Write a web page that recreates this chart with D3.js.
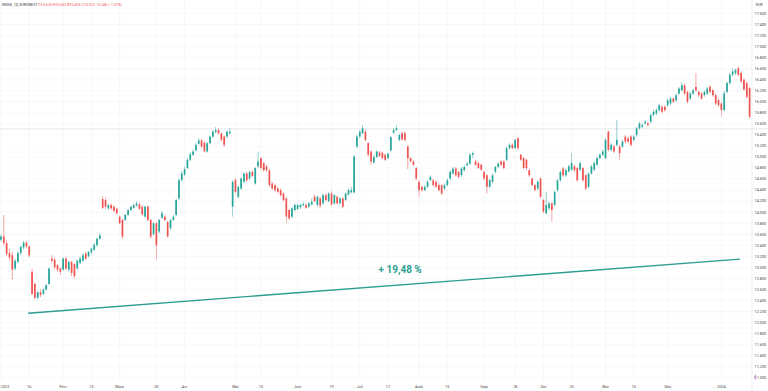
<!DOCTYPE html>
<html><head><meta charset="utf-8">
<script src="https://cdn.jsdelivr.net/npm/d3@7"></script>
<style>html,body{margin:0;padding:0;background:#fff;overflow:hidden}</style>
</head><body>
<svg id="c" width="768" height="391"></svg>
<script>
// ---- DATA (daily candles, ENGIE, Euronext) ----
const open = [13.50,13.56,13.44,13.26,13.22,12.98,13.10,13.26,13.36,13.45,13.38,12.92,12.70,12.45,12.55,12.52,12.60,12.70,13.16,13.14,13.04,12.98,12.96,13.16,12.96,13.10,13.06,12.98,13.08,13.12,13.25,13.20,13.27,13.32,13.40,13.52,
14.24,14.22,14.07,14.13,14.10,14.06,13.92,13.86,13.86,13.95,14.04,14.08,14.12,14.14,14.10,13.92,14.10,13.86,13.60,13.80,13.65,13.90,13.92,13.82,13.71,13.86,13.95,14.25,14.58,
14.68,14.80,14.95,15.04,15.12,15.24,15.30,15.26,15.10,15.25,15.37,15.45,15.49,15.43,15.37,15.37,15.43,
14.10,14.58,14.28,14.43,14.55,14.70,14.61,14.73,14.52,14.83,14.98,14.89,14.83,14.76,14.52,14.49,14.43,14.40,14.34,14.25,14.04,13.92,14.04,14.06,14.09,14.13,14.13,14.10,14.14,14.28,14.13,14.25,14.16,14.31,14.20,14.34,14.16,14.28,14.16,14.25,14.22,14.32,14.36,
14.36,15.19,15.37,15.43,15.46,15.25,15.10,14.90,15.00,15.08,15.08,15.04,14.98,15.12,15.44,15.49,15.31,15.43,15.43,15.19,14.98,14.92,14.80,14.55,14.46,14.40,14.46,14.58,14.58,14.55,14.49,14.49,14.43,14.49,14.61,14.70,14.79,14.73,14.67,14.76,14.85,14.88,15.04,14.92,14.89,14.86,14.73,14.67,14.46,14.55,14.73,14.82,14.92,14.92,14.95,15.16,15.22,15.16,15.34,15.04,14.98,14.95,14.76,14.61,14.49,14.43,14.61,14.22,13.98,14.07,14.16,14.13,
14.40,14.58,14.79,14.67,14.74,14.77,14.83,14.80,14.77,14.80,14.67,14.46,14.70,14.77,14.86,14.98,15.04,14.98,15.46,15.13,15.19,15.22,15.19,15.19,15.37,15.34,15.37,15.31,15.40,15.52,15.55,15.61,15.61,15.64,15.76,15.79,15.85,15.91,15.91,15.94,15.97,16.06,16.03,16.15,16.21,16.30,16.18,16.06,16.15,16.27,16.18,16.15,16.12,16.15,16.27,16.21,16.12,16.03,15.97,
15.85,16.18,16.34,16.49,16.52,16.61,16.52,16.40,16.34,16.25];
const high = [13.60,13.95,13.50,13.34,13.28,13.16,13.30,13.40,13.48,13.48,13.40,12.98,12.72,12.58,12.60,12.62,12.70,13.00,13.22,13.18,13.06,13.00,13.18,13.20,13.12,13.12,13.08,13.14,13.20,13.26,13.28,13.30,13.36,13.44,13.54,13.62,
14.30,14.26,14.16,14.16,14.12,14.08,13.94,13.88,13.97,14.06,14.12,14.16,14.20,14.18,14.12,14.12,14.12,13.88,13.82,13.82,13.88,14.02,13.95,13.84,13.88,13.95,14.24,14.62,14.75,
14.82,14.98,15.08,15.14,15.26,15.34,15.33,15.28,15.27,15.39,15.49,15.55,15.52,15.45,15.39,15.48,15.52,
14.58,14.62,14.48,14.63,14.72,14.73,14.76,14.76,14.82,15.10,15.00,14.91,14.86,14.78,14.55,14.52,14.46,14.43,14.36,14.28,14.06,14.09,14.16,14.16,14.16,14.18,14.16,14.19,14.25,14.32,14.30,14.28,14.34,14.34,14.37,14.38,14.33,14.30,14.27,14.27,14.36,14.43,14.46,
15.03,15.40,15.49,15.58,15.50,15.27,15.12,15.04,15.12,15.11,15.10,15.06,15.08,15.38,15.52,15.57,15.43,15.46,15.46,15.21,15.00,14.94,14.82,14.58,14.48,14.49,14.58,14.67,14.60,14.57,14.52,14.51,14.52,14.61,14.76,14.82,14.82,14.75,14.82,14.85,14.91,15.07,15.10,14.95,14.91,14.88,14.75,14.69,14.60,14.70,14.84,14.91,14.94,14.94,15.19,15.25,15.25,15.33,15.36,15.06,15.00,14.97,14.78,14.63,14.51,14.57,14.63,14.24,14.37,14.19,14.18,14.39,
14.60,14.76,14.82,14.79,14.86,15.07,14.86,14.82,14.92,14.82,14.69,14.72,14.86,14.92,15.01,15.07,15.13,15.34,15.48,15.25,15.22,15.67,15.22,15.31,15.40,15.37,15.40,15.40,15.55,15.64,15.61,15.67,15.64,15.79,15.85,15.88,15.97,15.94,15.94,16.06,16.09,16.08,16.15,16.27,16.36,16.33,16.20,16.18,16.24,16.52,16.20,16.18,16.21,16.27,16.30,16.24,16.15,16.06,16.00,
16.20,16.37,16.52,16.61,16.60,16.64,16.55,16.43,16.37,16.28];
const low = [13.46,13.40,13.20,13.12,12.78,12.94,13.08,13.22,13.32,13.34,13.18,12.50,12.42,12.42,12.46,12.50,12.58,12.68,13.08,12.96,12.92,12.86,12.94,12.94,12.92,12.84,12.80,12.96,13.06,13.10,13.14,13.18,13.25,13.30,13.38,13.50,
14.05,14.06,14.04,14.04,14.00,13.95,13.78,13.52,13.84,13.93,14.02,14.06,14.10,14.04,13.94,13.90,13.84,13.52,13.58,13.14,13.62,13.88,13.84,13.54,13.68,13.84,13.93,14.23,14.56,
14.65,14.78,14.92,15.02,15.10,15.22,15.16,15.08,15.08,15.23,15.35,15.43,15.41,15.28,15.18,15.34,15.41,
13.92,14.34,14.25,14.40,14.52,14.55,14.58,14.64,14.50,14.80,14.78,14.74,14.73,14.46,14.40,14.37,14.34,14.28,14.19,13.80,13.86,13.89,14.01,14.04,14.06,14.10,14.06,14.08,14.12,14.18,14.10,14.08,14.14,14.20,14.18,14.12,14.13,14.14,14.14,14.07,14.20,14.30,14.34,
14.34,15.16,15.34,15.41,15.28,15.01,14.86,14.88,14.98,15.00,14.96,14.93,14.96,15.10,15.42,15.47,15.28,15.30,15.28,14.78,14.90,14.83,14.58,14.28,14.37,14.38,14.44,14.56,14.47,14.44,14.37,14.31,14.40,14.47,14.58,14.68,14.64,14.61,14.64,14.74,14.83,14.86,14.98,14.84,14.78,14.75,14.58,14.34,14.44,14.52,14.70,14.80,14.84,14.78,14.93,15.14,15.14,15.14,15.13,14.93,14.78,14.76,14.64,14.47,14.38,14.40,14.25,13.98,13.96,14.04,13.83,14.10,
14.37,14.55,14.64,14.64,14.72,14.75,14.74,14.55,14.74,14.55,14.40,14.43,14.68,14.74,14.84,14.96,15.02,14.96,15.10,15.10,15.07,15.19,14.95,15.16,15.25,15.25,15.19,15.28,15.37,15.49,15.52,15.58,15.55,15.61,15.73,15.76,15.82,15.79,15.82,15.91,15.94,15.98,16.00,16.12,16.18,16.12,15.97,16.03,16.12,16.18,16.09,16.03,16.09,16.12,16.15,16.09,15.94,15.91,15.73,
15.83,16.15,16.31,16.46,16.48,16.46,16.34,16.20,16.06,15.70];
const close = [13.56,13.44,13.24,13.18,12.96,13.12,13.26,13.37,13.45,13.38,13.22,12.52,12.45,12.55,12.50,12.60,12.68,12.98,13.12,13.00,12.96,12.92,13.16,12.98,13.10,12.90,12.84,13.12,13.16,13.22,13.16,13.28,13.34,13.41,13.52,13.58,
14.08,14.10,14.13,14.07,14.02,13.98,13.80,13.56,13.95,14.04,14.10,14.13,14.16,14.06,13.96,14.10,13.86,13.56,13.80,13.40,13.86,13.98,13.86,13.56,13.86,13.92,14.22,14.58,14.70,
14.78,14.95,15.05,15.10,15.22,15.30,15.19,15.10,15.25,15.37,15.46,15.49,15.43,15.31,15.22,15.46,15.46,
14.55,14.37,14.46,14.61,14.70,14.58,14.73,14.66,14.80,14.92,14.80,14.76,14.76,14.49,14.43,14.40,14.37,14.31,14.22,13.92,13.89,14.07,14.13,14.13,14.13,14.15,14.08,14.16,14.19,14.20,14.28,14.12,14.31,14.22,14.34,14.14,14.31,14.16,14.25,14.10,14.34,14.40,14.40,
15.01,15.37,15.46,15.52,15.31,15.04,14.92,15.00,15.10,15.02,14.98,14.95,15.06,15.36,15.49,15.52,15.40,15.32,15.31,14.98,14.92,14.86,14.61,14.40,14.40,14.46,14.55,14.64,14.49,14.46,14.40,14.34,14.49,14.58,14.73,14.79,14.67,14.64,14.79,14.82,14.88,15.04,15.07,14.86,14.80,14.77,14.61,14.46,14.58,14.67,14.82,14.88,14.86,14.80,15.16,15.22,15.16,15.31,15.16,14.95,14.80,14.80,14.67,14.49,14.40,14.55,14.28,14.01,14.13,14.16,14.04,14.37,
14.58,14.73,14.67,14.76,14.83,14.89,14.76,14.58,14.89,14.58,14.43,14.70,14.83,14.89,14.98,15.04,15.10,15.31,15.13,15.22,15.10,15.31,15.07,15.28,15.28,15.28,15.22,15.37,15.52,15.61,15.58,15.64,15.58,15.76,15.82,15.85,15.94,15.82,15.85,16.03,16.06,16.00,16.12,16.24,16.30,16.15,16.00,16.15,16.21,16.21,16.12,16.06,16.18,16.24,16.18,16.12,15.97,15.94,15.85,
16.15,16.34,16.49,16.55,16.58,16.49,16.37,16.22,16.09,15.73];

const priceTicks = [11.0,11.2,11.4,11.6,11.8,12.0,12.2,12.4,12.6,12.8,13.0,13.2,13.4,13.6,13.8,14.0,14.2,14.4,14.6,14.8,15.0,15.2,15.4,15.6,15.8,16.0,16.2,16.4,16.6,16.8,17.0,17.2,17.4,17.6];
const timeTickBars   = [0,10,22,32,42,55,65,83,92,105,117,127,137,148,158,171,182,192,202,214,224,236,255];
const timeTickLabels = ["2023","16","Févr","15","Mars","20","Avr","Mai","15","Juin","19","Juil","17","Août","15","Sept","18","Oct","16","Nov","15","Déc","2024"];
const trendBars   = [9.6, 261.6];
const trendPrices = [12.17, 13.15];
const trendLabel  = "+ 19,48 %";
const trendLabelBar = 141.3, trendLabelPrice = 12.89;
const lastPrice = 15.51;
const headerName = "ENGIE, 1D, EURONEXT";
const headerValues = "O15.620 H15.652 B15.476 C15.510 −0.248 (−1.57%)";

// ---- CHART ----
const W = 768, H = 391;
const svg = d3.select("#c");
const UP = "#26a69a", DOWN = "#ef5350";
const x = d3.scaleLinear().domain([0, 265]).range([1, 749.6]);
const y = d3.scaleLinear().domain([11.0, 17.6]).range([377.8, 13.5]);
const plotRight = 752;
const font = "Roboto, 'Liberation Sans', sans-serif";

// grid
const grid = svg.append("g");
grid.selectAll("line.h").data(priceTicks).join("line")
  .attr("x1", 0).attr("x2", plotRight).attr("y1", d => y(d)).attr("y2", d => y(d))
  .attr("stroke", "#f2f3f6").attr("stroke-width", 0.6);
grid.selectAll("line.v").data(timeTickBars).join("line")
  .attr("x1", d => x(d)).attr("x2", d => x(d)).attr("y1", 0).attr("y2", 381)
  .attr("stroke", "#f0f1f5").attr("stroke-width", 0.6);

// last price line
svg.append("line").attr("x1", 0).attr("x2", W).attr("y1", y(lastPrice)).attr("y2", y(lastPrice))
  .attr("stroke", "#dcdfe4").attr("stroke-width", 0.7);

// candles
const idx = d3.range(close.length);
const cg = svg.append("g");
cg.selectAll("line.w").data(idx).join("line")
  .attr("x1", i => x(i)).attr("x2", i => x(i))
  .attr("y1", i => y(high[i])).attr("y2", i => y(low[i]))
  .attr("stroke", i => close[i] >= open[i] ? UP : DOWN).attr("stroke-width", 0.6).attr("opacity", 0.85);
cg.selectAll("rect").data(idx).join("rect")
  .attr("x", i => x(i) - 0.85).attr("width", 1.7)
  .attr("y", i => y(Math.max(open[i], close[i])))
  .attr("height", i => Math.max(0.7, Math.abs(y(open[i]) - y(close[i]))))
  .attr("fill", i => close[i] >= open[i] ? UP : DOWN);

// trend line + label
svg.append("line")
  .attr("x1", x(trendBars[0])).attr("y1", y(trendPrices[0]))
  .attr("x2", x(trendBars[1])).attr("y2", y(trendPrices[1]))
  .attr("stroke", "#2a9d8f").attr("stroke-width", 1.4);
svg.append("text").attr("x", x(trendLabelBar)).attr("y", y(trendLabelPrice))
  .attr("text-anchor", "middle").attr("font-family", font).attr("font-weight", "bold")
  .attr("font-size", 10).attr("fill", "#2a9d8f").text(trendLabel);

// price axis
svg.append("line").attr("x1", plotRight).attr("x2", plotRight).attr("y1", 0).attr("y2", H)
  .attr("stroke", "#e0e3eb").attr("stroke-width", 0.6);
svg.append("g").selectAll("text").data(priceTicks).join("text")
  .attr("x", 754.5).attr("y", d => y(d) + 1.3)
  .attr("font-family", font).attr("font-size", 3.8).attr("fill", "#444")
  .text(d => d3.format(".3f")(d));
svg.append("text").attr("x", 756).attr("y", 6).attr("font-family", font)
  .attr("font-size", 3.6).attr("fill", "#444").text("EUR");

// time axis (first label kept inside the frame)
svg.append("g").selectAll("text").data(timeTickBars).join("text")
  .attr("x", (d, i) => i === 0 ? 0.5 : x(d)).attr("y", 387.5)
  .attr("text-anchor", (d, i) => i === 0 ? "start" : "middle")
  .attr("font-family", font).attr("font-size", 3.8).attr("fill", "#444")
  .text((d, i) => timeTickLabels[i]);

// header
const ht = svg.append("text").attr("x", 2).attr("y", 6).attr("font-family", font).attr("font-size", 3.6);
ht.append("tspan").attr("fill", "#444").text(headerName + "  ");
ht.append("tspan").attr("fill", DOWN).text(headerValues);

// small purple bracket icon near the bottom of the price scale
svg.append("path").attr("d", "M755.6,374.8 Q753.6,377.2 755.6,379.6")
  .attr("fill", "none").attr("stroke", "#9c27b0").attr("stroke-width", 0.6);
</script>
</body></html>
